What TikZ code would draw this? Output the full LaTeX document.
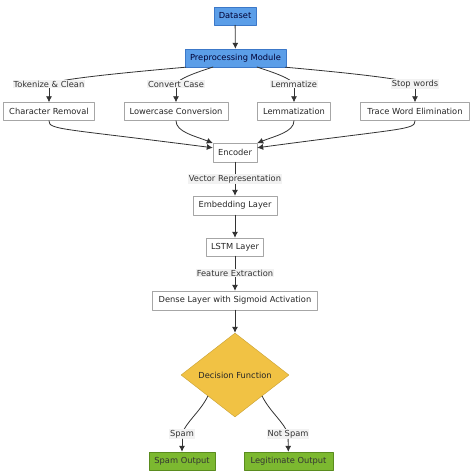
\documentclass[tikz,border=0pt]{standalone}
\usepackage{fontspec}
\setmainfont{DejaVu Sans}
\usetikzlibrary{arrows.meta,shapes.geometric}

\definecolor{prepblue}{HTML}{5B9EE8}
\definecolor{prepline}{HTML}{3C78C8}
\definecolor{decyellow}{HTML}{F1C244}
\definecolor{decline}{HTML}{C9A033}
\definecolor{outgreen}{HTML}{7CB830}
\definecolor{outline}{HTML}{5A8C1E}

\tikzset{
	step box/.style={draw=gray!70, fill=white, text=black!85, minimum height=18pt, inner xsep=2pt, font=\fontsize{8.3}{10}\selectfont},
	blue box/.style={step box, draw=prepline, fill=prepblue, text=blue!20!black},
	green box/.style={step box, draw=outline, fill=outgreen, text=black!80},
	edge label/.style={fill=gray!10, inner sep=1pt, text=black!80, font=\fontsize{8.3}{10}\selectfont},
	flow/.style={draw=black!80, thick, -{Latex[length=6pt,width=6pt]}},
	link/.style={draw=black!80, thick}
}

\begin{document}
\begin{tikzpicture}[x=1pt, y=1pt, line cap=round, line join=round]
	\useasboundingbox (0,0) rectangle (474,-474);
	
	% Top: input and preprocessing
	\node[blue box, minimum width=42pt] (data) at (235,-16) {Dataset};
	\node[blue box, minimum width=101pt] (prep) at (235.5,-58) {Preprocessing Module};
	\draw[flow] (data) -- (prep);
	
	% Preprocessing branches
	\node[step box, minimum width=91pt] (charrem) at (49,-111.5) {Character Removal};
	\node[step box, minimum width=104pt] (lower) at (176,-111.5) {Lowercase Conversion};
	\node[step box, minimum width=73pt] (lemma) at (294,-111.5) {Lemmatization};
	\node[step box, minimum width=109pt] (trace) at (415,-111.5) {Trace Word Elimination};
	
	\coordinate (p1) at ([xshift=1pt]prep.south west);
	\coordinate (p2) at (213,-67);
	\coordinate (p3) at (257,-67);
	\coordinate (p4) at ([xshift=-1pt]prep.south east);
	
	\draw[link] (p1) .. controls (120,-73) and (60,-79) .. (49,-84);
	\draw[link] (p2) .. controls (195,-73) and (180,-78) .. (176,-84);
	\draw[link] (p3) .. controls (275,-73) and (290,-78) .. (294,-84);
	\draw[link] (p4) .. controls (350,-73) and (405,-79) .. (415,-84);
	
	\node[edge label] (tok) at (49,-84) {Tokenize \& Clean};
	\node[edge label] (conv) at (176,-84) {Convert Case};
	\node[edge label] (lemz) at (294,-84) {Lemmatize};
	\node[edge label] (stop) at (415,-84) {Stop words};
	
	\draw[flow] (tok) -- (charrem);
	\draw[flow] (conv) -- (lower);
	\draw[flow] (lemz) -- (lemma);
	\draw[flow] (stop) -- (trace);
	
	% Encoder
	\node[step box, minimum width=44pt, minimum height=19pt] (enc) at (235,-152.5) {Encoder};
	\draw[flow] (charrem.south) .. controls (49,-130) and (60,-128) .. (enc.168);
	\draw[flow] (lower.south) .. controls (176,-132) and (195,-136) .. (enc.157);
	\draw[flow] (lemma.south) .. controls (294,-132) and (275,-136) .. (enc.23);
	\draw[flow] (trace.south) .. controls (415,-130) and (404,-128) .. (enc.12);
	
	% Network layers
	\node[edge label] (vecrep) at (235,-179) {Vector Representation};
	\node[step box, minimum width=84pt, minimum height=19pt] (embed) at (235,-205.5) {Embedding Layer};
	\node[step box, minimum width=57pt] (lstm) at (235,-247) {LSTM Layer};
	\node[edge label] (feat) at (235,-273) {Feature Extraction};
	\node[step box, minimum width=165pt, minimum height=19pt] (dense) at (235,-300.5) {Dense Layer with Sigmoid Activation};
	
	\draw[link] (enc) -- (vecrep);
	\draw[flow] (vecrep) -- (embed);
	\draw[flow] (embed) -- (lstm);
	\draw[link] (lstm) -- (feat);
	\draw[flow] (feat) -- (dense);
	
	% Decision
	\node[diamond, draw=decline, fill=decyellow, inner sep=0pt, minimum width=108pt, minimum height=84pt,
		text=black!85, font=\fontsize{8.3}{10}\selectfont] (decide) at (235,-375) {Decision Function};
	\draw[flow] (dense) -- (decide);
	
	\node[green box, minimum width=66pt] (spamout) at (182,-461) {Spam Output};
	\node[green box, minimum width=89pt] (legit) at (288.5,-461) {Legitimate Output};
	
	\draw[link] (decide.south west) .. controls (200,-412) and (186,-422) .. (182,-434);
	\draw[link] (decide.south east) .. controls (270,-412) and (284,-422) .. (288,-434);
	\node[edge label] (spam) at (182,-434) {Spam};
	\node[edge label] (notspam) at (288,-434) {Not Spam};
	\draw[flow] (spam) -- (spamout);
	\draw[flow] (notspam) -- (legit);
\end{tikzpicture}
\end{document}
